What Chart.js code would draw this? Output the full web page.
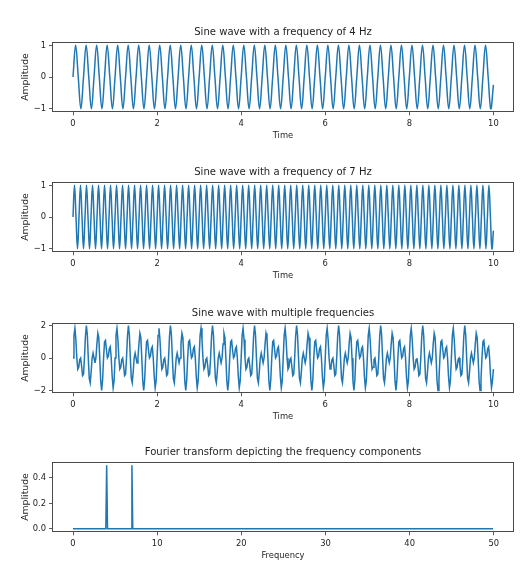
<!DOCTYPE html>
<html><head><meta charset="utf-8">
<script src="https://cdn.jsdelivr.net/npm/chart.js@4.4.1/dist/chart.umd.min.js"></script>
<style>
html,body{margin:0;padding:0;background:#fff;}
body{width:528px;height:579px;position:relative;overflow:hidden;}
canvas{position:absolute;left:0;}
</style></head><body>
<canvas id="c1" width="528" height="140" style="top:2px;width:528px;height:140px"></canvas>
<canvas id="c2" width="528" height="140" style="top:142px;width:528px;height:140px"></canvas>
<canvas id="c3" width="528" height="140" style="top:283px;width:528px;height:140px"></canvas>
<canvas id="c4" width="528" height="140" style="top:422px;width:528px;height:140px"></canvas>
<script>
// ---- data ----
const timeSpan = 10; // seconds covered by each time series

// 4 Hz sine: values at every quarter period (1/16 s)
const sine4Hz = [
0,1,0,-1,0,1,0,-1,0,1,0,-1,0,1,0,-1,0,1,0,-1,
0,1,0,-1,0,1,0,-1,0,1,0,-1,0,1,0,-1,0,1,0,-1,
0,1,0,-1,0,1,0,-1,0,1,0,-1,0,1,0,-1,0,1,0,-1,
0,1,0,-1,0,1,0,-1,0,1,0,-1,0,1,0,-1,0,1,0,-1,
0,1,0,-1,0,1,0,-1,0,1,0,-1,0,1,0,-1,0,1,0,-1,
0,1,0,-1,0,1,0,-1,0,1,0,-1,0,1,0,-1,0,1,0,-1,
0,1,0,-1,0,1,0,-1,0,1,0,-1,0,1,0,-1,0,1,0,-1,
0,1,0,-1,0,1,0,-1,0,1,0,-1,0,1,0,-1,0,1,0,-1,
-0.25];

// 7 Hz sine: values at every quarter period (1/28 s)
const sine7Hz = [
0,1,0,-1,0,1,0,-1,0,1,0,-1,0,1,0,-1,0,1,0,-1,
0,1,0,-1,0,1,0,-1,0,1,0,-1,0,1,0,-1,0,1,0,-1,
0,1,0,-1,0,1,0,-1,0,1,0,-1,0,1,0,-1,0,1,0,-1,
0,1,0,-1,0,1,0,-1,0,1,0,-1,0,1,0,-1,0,1,0,-1,
0,1,0,-1,0,1,0,-1,0,1,0,-1,0,1,0,-1,0,1,0,-1,
0,1,0,-1,0,1,0,-1,0,1,0,-1,0,1,0,-1,0,1,0,-1,
0,1,0,-1,0,1,0,-1,0,1,0,-1,0,1,0,-1,0,1,0,-1,
0,1,0,-1,0,1,0,-1,0,1,0,-1,0,1,0,-1,0,1,0,-1,
0,1,0,-1,0,1,0,-1,0,1,0,-1,0,1,0,-1,0,1,0,-1,
0,1,0,-1,0,1,0,-1,0,1,0,-1,0,1,0,-1,0,1,0,-1,
0,1,0,-1,0,1,0,-1,0,1,0,-1,0,1,0,-1,0,1,0,-1,
0,1,0,-1,0,1,0,-1,0,1,0,-1,0,1,0,-1,0,1,0,-1,
0,1,0,-1,0,1,0,-1,0,1,0,-1,0,1,0,-1,0,1,0,-1,
0,1,0,-1,0,1,0,-1,0,1,0,-1,0,1,0,-1,0,1,0,-1,
-0.43];

// 4 Hz + 7 Hz: values every 1/44 s
const sineMulti = [
0,1.38,1.82,1.13,0,-0.68,-0.56,-0.1,0,-0.49,-1.08,-1,0,1.33,1.98,1.41,0,-1.24,-1.51,-0.85,0,0.3,0,-0.3,0,0.85,1.51,1.24,0,-1.41,-1.98,-1.33,0,1,1.08,0.49,0,0.1,0.56,0.68,0,-1.13,-1.82,-1.38,
0,1.38,1.82,1.13,0,-0.68,-0.56,-0.1,0,-0.49,-1.08,-1,0,1.33,1.98,1.41,0,-1.24,-1.51,-0.85,0,0.3,0,-0.3,0,0.85,1.51,1.24,0,-1.41,-1.98,-1.33,0,1,1.08,0.49,0,0.1,0.56,0.68,0,-1.13,-1.82,-1.38,
0,1.38,1.82,1.13,0,-0.68,-0.56,-0.1,0,-0.49,-1.08,-1,0,1.33,1.98,1.41,0,-1.24,-1.51,-0.85,0,0.3,0,-0.3,0,0.85,1.51,1.24,0,-1.41,-1.98,-1.33,0,1,1.08,0.49,0,0.1,0.56,0.68,0,-1.13,-1.82,-1.38,
0,1.38,1.82,1.13,0,-0.68,-0.56,-0.1,0,-0.49,-1.08,-1,0,1.33,1.98,1.41,0,-1.24,-1.51,-0.85,0,0.3,0,-0.3,0,0.85,1.51,1.24,0,-1.41,-1.98,-1.33,0,1,1.08,0.49,0,0.1,0.56,0.68,0,-1.13,-1.82,-1.38,
0,1.38,1.82,1.13,0,-0.68,-0.56,-0.1,0,-0.49,-1.08,-1,0,1.33,1.98,1.41,0,-1.24,-1.51,-0.85,0,0.3,0,-0.3,0,0.85,1.51,1.24,0,-1.41,-1.98,-1.33,0,1,1.08,0.49,0,0.1,0.56,0.68,0,-1.13,-1.82,-1.38,
0,1.38,1.82,1.13,0,-0.68,-0.56,-0.1,0,-0.49,-1.08,-1,0,1.33,1.98,1.41,0,-1.24,-1.51,-0.85,0,0.3,0,-0.3,0,0.85,1.51,1.24,0,-1.41,-1.98,-1.33,0,1,1.08,0.49,0,0.1,0.56,0.68,0,-1.13,-1.82,-1.38,
0,1.38,1.82,1.13,0,-0.68,-0.56,-0.1,0,-0.49,-1.08,-1,0,1.33,1.98,1.41,0,-1.24,-1.51,-0.85,0,0.3,0,-0.3,0,0.85,1.51,1.24,0,-1.41,-1.98,-1.33,0,1,1.08,0.49,0,0.1,0.56,0.68,0,-1.13,-1.82,-1.38,
0,1.38,1.82,1.13,0,-0.68,-0.56,-0.1,0,-0.49,-1.08,-1,0,1.33,1.98,1.41,0,-1.24,-1.51,-0.85,0,0.3,0,-0.3,0,0.85,1.51,1.24,0,-1.41,-1.98,-1.33,0,1,1.08,0.49,0,0.1,0.56,0.68,0,-1.13,-1.82,-1.38,
0,1.38,1.82,1.13,0,-0.68,-0.56,-0.1,0,-0.49,-1.08,-1,0,1.33,1.98,1.41,0,-1.24,-1.51,-0.85,0,0.3,0,-0.3,0,0.85,1.51,1.24,0,-1.41,-1.98,-1.33,0,1,1.08,0.49,0,0.1,0.56,0.68,0,-1.13,-1.82,-1.38,
0,1.38,1.82,1.13,0,-0.68,-0.56,-0.1,0,-0.49,-1.08,-1,0,1.33,1.98,1.41,0,-1.24,-1.51,-0.85,0,0.3,0,-0.3,0,0.85,1.51,1.24,0,-1.41,-1.98,-1.33,0,1,1.08,0.49,0,0.1,0.56,0.68,0,-1.13,-1.82,-1.38,
-0.68];

// Fourier transform (frequency, amplitude)
const fftFreq = [0, 3.9, 4, 4.1, 6.9, 7, 7.1, 49.9];
const fftAmp  = [0, 0, 0.5, 0, 0, 0.5, 0, 0];

// tick values and labels
const timeTicks = [0, 2, 4, 6, 8, 10];
const timeTickLabels = ['0', '2', '4', '6', '8', '10'];
const unitTicks = [-1, 0, 1];
const unitTickLabels = ['\u22121', '0', '1'];
const multiTicks = [-2, 0, 2];
const multiTickLabels = ['\u22122', '0', '2'];
const freqTicks = [0, 10, 20, 30, 40, 50];
const freqTickLabels = ['0', '10', '20', '30', '40', '50'];
const fftTicks = [0, 0.2, 0.4];
const fftTickLabels = ['0.0', '0.2', '0.4'];

const titles = [
  'Sine wave with a frequency of 4 Hz',
  'Sine wave with a frequency of 7 Hz',
  'Sine wave with multiple frequencies',
  'Fourier transform depicting the frequency components'
];

// ---- drawing ----
const lineColor = '#1f77b4';
const textColor = '#1e1e1e';
const spineColor = '#4a4a4a';
const condensed = "'DejaVu Sans Condensed', 'Liberation Sans', sans-serif";
const regular = "'DejaVu Sans', sans-serif";

const toTimePoints = (vals) => vals.map((y, i) => ({ x: i * timeSpan / (vals.length - 1), y }));
const fftPoints = fftFreq.map((x, i) => ({ x, y: fftAmp[i] }));

const frame = {
  id: 'frame',
  afterDatasetsDraw(chart) {
    const { ctx, chartArea: a } = chart;
    ctx.save();
    ctx.strokeStyle = spineColor;
    ctx.lineWidth = 1;
    ctx.strokeRect(a.left + 0.5, a.top + 0.5, a.right - a.left - 1, a.bottom - a.top - 1);
    ctx.restore();
  }
};
const axesTitle = {
  id: 'axesTitle',
  afterDraw(chart, args, opts) {
    const { ctx, chartArea: a } = chart;
    ctx.save();
    ctx.font = '11.2px ' + condensed;
    ctx.fillStyle = textColor;
    ctx.textAlign = 'center';
    ctx.textBaseline = 'middle';
    ctx.fillText(opts.text, (a.left + a.right) / 2, a.top - 10.3);
    ctx.restore();
  }
};

function makeChart(id, cfg) {
  return new Chart(document.getElementById(id), {
    type: 'line',
    data: { datasets: [{
      data: cfg.points,
      borderColor: lineColor,
      borderWidth: 1.5,
      pointRadius: 0,
      fill: false,
      tension: cfg.tension
    }]},
    options: {
      responsive: false,
      animation: false,
      events: [],
      layout: { padding: { top: 40, right: 14, left: 0, bottom: 0 } },
      plugins: {
        legend: { display: false },
        tooltip: { enabled: false },
        title: { display: false },
        axesTitle: { text: cfg.title }
      },
      scales: {
        x: {
          type: 'linear',
          min: cfg.xMin, max: cfg.xMax,
          afterBuildTicks: (axis) => { axis.ticks = cfg.xTicks.map(v => ({ value: v })); },
          afterFit: (scale) => { scale.height = 30; },
          ticks: {
            autoSkip: false, maxRotation: 0, padding: 2.4, color: textColor,
            font: { family: condensed, size: 9.3 },
            callback: (v, i) => cfg.xLabels[i]
          },
          grid: { display: true, drawOnChartArea: false, drawTicks: true, tickLength: 3.3, color: '#333', lineWidth: 0.8 },
          border: { display: false },
          title: { display: true, text: cfg.xTitle, color: textColor,
                   font: { family: condensed, size: 9.3 }, padding: { top: 0, bottom: 0.4 } }
        },
        y: {
          type: 'linear',
          min: cfg.yMin, max: cfg.yMax,
          afterBuildTicks: (axis) => { axis.ticks = cfg.yTicks.map(v => ({ value: v })); },
          afterFit: (scale) => { scale.width = 52; },
          ticks: {
            autoSkip: false, padding: 3, color: textColor,
            font: { family: condensed, size: 9.3 },
            callback: (v, i) => cfg.yLabels[i]
          },
          grid: { display: true, drawOnChartArea: false, drawTicks: true, tickLength: 3, color: '#333', lineWidth: 0.8 },
          border: { display: false },
          title: { display: true, text: 'Amplitude', color: textColor,
                   font: { family: regular, size: 9.3 }, padding: { top: 19.7, bottom: 0 } }
        }
      }
    },
    plugins: [frame, axesTitle]
  });
}

const timeCfg = { xMin: -0.4995, xMax: 10.4895, xTicks: timeTicks, xLabels: timeTickLabels, xTitle: 'Time' };

makeChart('c1', Object.assign({}, timeCfg, {
  title: titles[0], points: toTimePoints(sine4Hz), tension: 0.4,
  yMin: -1.1, yMax: 1.1, yTicks: unitTicks, yLabels: unitTickLabels }));
makeChart('c2', Object.assign({}, timeCfg, {
  title: titles[1], points: toTimePoints(sine7Hz), tension: 0.4,
  yMin: -1.1, yMax: 1.1, yTicks: unitTicks, yLabels: unitTickLabels }));
makeChart('c3', Object.assign({}, timeCfg, {
  title: titles[2], points: toTimePoints(sineMulti), tension: 0,
  yMin: -2.14, yMax: 2.14, yTicks: multiTicks, yLabels: multiTickLabels }));
makeChart('c4', {
  title: titles[3], points: fftPoints, tension: 0,
  xMin: -2.495, xMax: 52.395, xTicks: freqTicks, xLabels: freqTickLabels, xTitle: 'Frequency',
  yMin: -0.025, yMax: 0.525, yTicks: fftTicks, yLabels: fftTickLabels });
</script>
</body></html>
